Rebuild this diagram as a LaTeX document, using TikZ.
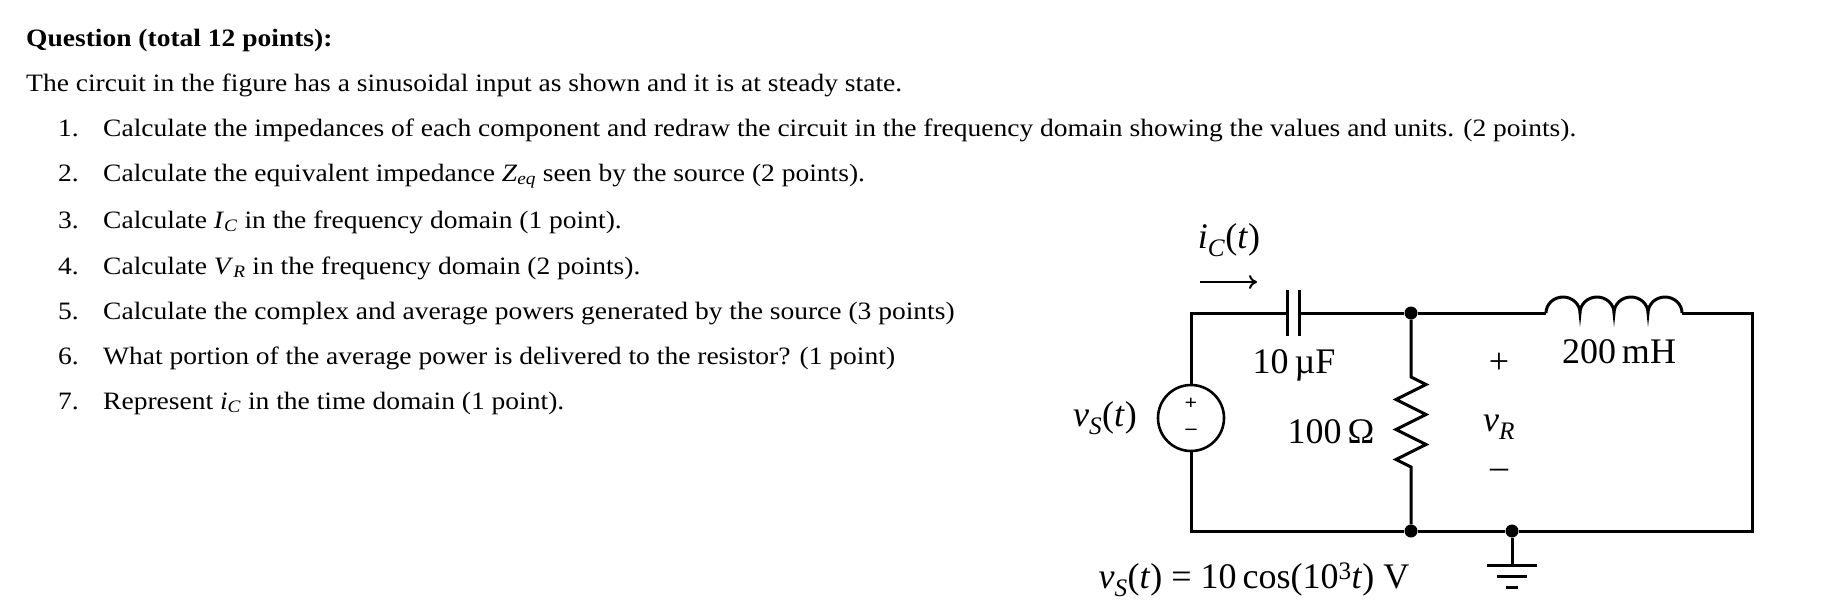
\documentclass[tikz,border=0pt]{standalone}
\usepackage{fontspec}
\setmainfont[FakeStretch=1.1]{Liberation Serif}
\newfontfamily\circfont{Liberation Serif}
\newcommand{\ivar}[1]{\textit{#1}}
\newcommand{\isub}[2]{\textit{#1}\textsubscript{\textit{#2}}}
\usetikzlibrary{arrows.meta}
\begin{document}
\begin{tikzpicture}[x=1pt,y=-1pt,
  txt/.style={anchor=base west,inner sep=0pt,font=\fontsize{25}{25}\selectfont},
  lbl/.style={inner sep=0pt,font=\circfont\fontsize{36}{36}\selectfont},
  wire/.style={line width=3pt},
  dot/.style={circle,fill=black,inner sep=0pt,minimum size=13pt}]
\useasboundingbox (0,0) rectangle (1826,614);
% text
\node[txt,font=\fontsize{25}{25}\selectfont\bfseries] (t0) at (26,46) {Question (total 12 points):};
\node[txt] (t1) at (26,91) {The circuit in the figure has a sinusoidal input as shown and it is at steady state.};
\foreach \n/\y/\s in {1/136/{Calculate the impedances of each component and redraw the circuit in the frequency domain showing the values and units. (2 points).},
 2/181/{Calculate the equivalent impedance \isub{Z}{eq} seen by the source (2 points).},
 3/228/{Calculate \isub{I}{C} in the frequency domain (1 point).},
 4/274/{Calculate \isub{V}{R} in the frequency domain (2 points).},
 5/319/{Calculate the complex and average powers generated by the source (3 points)},
 6/364/{What portion of the average power is delivered to the resistor? (1 point)},
 7/409/{Represent \isub{i}{C} in the time domain (1 point).}}{
  \node[txt] (n\n) at (58,\y) {\n.};
  \node[txt] (i\n) at (103,\y) {\s};
}
% circuit coordinates
\coordinate (tl) at (1191,313);
\coordinate (bl) at (1191,531);
\coordinate (tr) at (1752,313);
\coordinate (br) at (1752,531);
\node[dot] (nt) at (1411,313) {};
\node[dot] (nb) at (1411,531) {};
\node[dot] (ng) at (1512,531) {};
\node[circle,draw,line width=2.6pt,minimum size=66pt,inner sep=0pt] (src) at (1191,418) {};
\node[font=\fontsize{20}{20}\selectfont\bfseries] at (1191,404) {+};
\node[font=\fontsize{20}{20}\selectfont\bfseries] at (1191,432) {–};
\coordinate (c1) at (1287,313);
\coordinate (c2) at (1299,313);
\coordinate (l1) at (1546,313);
\coordinate (l2) at (1682,313);
\coordinate (gnd) at (1512,565);
% wires
\draw[wire] (src.south) -- (bl) -- (nb) -- (ng) -- (br) -- (tr) -- (l2);
\draw[wire] (src.north) -- (tl) -- (c1);
\draw[wire] (c2) -- (nt) -- (l1);
\draw[wire] (1287,290) -- (1287,336);
\draw[wire] (1299,290) -- (1299,336);
% inductor
\draw[wire] (l1) arc[start angle=180,end angle=360,x radius=17,y radius=16]
  arc[start angle=180,end angle=360,x radius=17,y radius=16]
  arc[start angle=180,end angle=360,x radius=17,y radius=16]
  arc[start angle=180,end angle=360,x radius=17,y radius=16];
% resistor
\draw[wire] (nt) -- (1411,377) -- (1426,384.5) -- (1396,399.5) -- (1426,414.5) -- (1396,429.5) -- (1426,444.5) -- (1396,459.5) -- (1411,467) -- (nb);
% ground
\draw[wire] (ng) -- (gnd);
\draw[wire] (1487,565) -- (1537,565);
\draw[wire] (1497,576) -- (1527,576);
\draw[wire] (1506,587) -- (1518,587);
% labels
\node[lbl] (lic) at (1229,240) {\isub{i}{C}(\ivar{t})};
\draw[line width=2pt,-{To[length=8pt,width=14pt]}] (1200,282) -- (1257,282);
\node[lbl] (lc) at (1294,365) {10\,µF};
\node[lbl] (ll) at (1619,352) {200\,mH};
\node[lbl] (lp) at (1499,363) {+};
\node[lbl] (lvr) at (1499,427) {\isub{v}{R}};
\node[lbl] (lm) at (1499,474) {–};
\node[lbl] (lr) at (1331,432) {100\,Ω};
\node[lbl] (lvs) at (1105,418) {\isub{v}{S}(\ivar{t})};
\node[lbl] (lf) at (1254,580) {\isub{v}{S}(\ivar{t}) = 10\,cos(10\textsuperscript{3}\ivar{t}) V};
\end{tikzpicture}
\end{document}
